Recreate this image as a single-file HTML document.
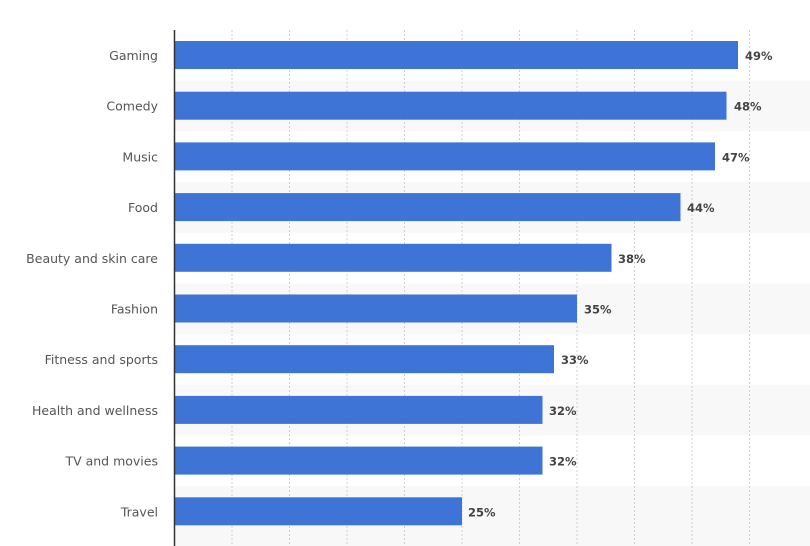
<!DOCTYPE html>
<html><head><style>
body{margin:0;background:#fff;}
svg{display:block;font-family:"DejaVu Sans","Liberation Sans",sans-serif;}
</style></head><body>
<svg width="810" height="546" viewBox="0 0 810 546">
<rect x="174" y="80.7" width="636" height="50.7" fill="#f8f8f8"/>
<rect x="174" y="182.1" width="636" height="50.7" fill="#f8f8f8"/>
<rect x="174" y="283.5" width="636" height="50.7" fill="#f8f8f8"/>
<rect x="174" y="384.9" width="636" height="50.7" fill="#f8f8f8"/>
<rect x="174" y="486.3" width="636" height="60" fill="#f8f8f8"/>
<g stroke="#d0d0d0" stroke-width="1" stroke-dasharray="2,2">
<line x1="232" y1="30" x2="232" y2="546"/><line x1="289.5" y1="30" x2="289.5" y2="546"/>
<line x1="347" y1="30" x2="347" y2="546"/><line x1="404.5" y1="30" x2="404.5" y2="546"/>
<line x1="462" y1="30" x2="462" y2="546"/><line x1="519.5" y1="30" x2="519.5" y2="546"/>
<line x1="577" y1="30" x2="577" y2="546"/><line x1="634.5" y1="30" x2="634.5" y2="546"/>
<line x1="692" y1="30" x2="692" y2="546"/><line x1="749.5" y1="30" x2="749.5" y2="546"/>
</g>
<g fill="#3e74d6">
<rect x="174" y="41" width="564" height="28"/>
<rect x="174" y="91.7" width="552.5" height="28"/>
<rect x="174" y="142.4" width="541" height="28"/>
<rect x="174" y="193.1" width="506.5" height="28"/>
<rect x="174" y="243.8" width="437.5" height="28"/>
<rect x="174" y="294.5" width="403" height="28"/>
<rect x="174" y="345.2" width="380" height="28"/>
<rect x="174" y="395.9" width="368.5" height="28"/>
<rect x="174" y="446.6" width="368.5" height="28"/>
<rect x="174" y="497.3" width="288" height="28"/>
</g>
<line x1="174.5" y1="30" x2="174.5" y2="546" stroke="#333" stroke-width="1.5"/>
<g fill="#555" font-size="12.5" text-anchor="end">
<text x="158" y="60">Gaming</text>
<text x="158" y="110.7">Comedy</text>
<text x="158" y="161.4">Music</text>
<text x="158" y="212.1">Food</text>
<text x="158" y="262.8">Beauty and skin care</text>
<text x="158" y="313.5">Fashion</text>
<text x="158" y="364.2">Fitness and sports</text>
<text x="158" y="414.9">Health and wellness</text>
<text x="158" y="465.6">TV and movies</text>
<text x="158" y="516.3">Travel</text>
</g>
<g fill="#444" font-size="11.5" font-weight="bold">
<text x="745" y="60">49%</text>
<text x="734" y="110.7">48%</text>
<text x="722" y="161.4">47%</text>
<text x="687" y="212.1">44%</text>
<text x="618" y="262.8">38%</text>
<text x="584" y="313.5">35%</text>
<text x="561" y="364.2">33%</text>
<text x="549" y="414.9">32%</text>
<text x="549" y="465.6">32%</text>
<text x="468" y="516.3">25%</text>
</g>
</svg>
</body></html>
